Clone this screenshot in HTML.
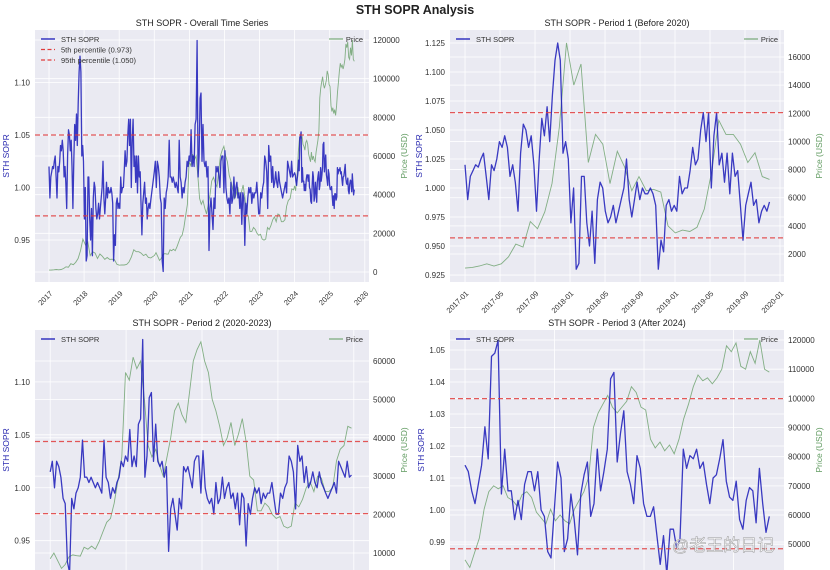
<!DOCTYPE html>
<html><head><meta charset="utf-8"><style>
html,body{margin:0;padding:0;background:#fff;width:830px;height:570px;overflow:hidden;}
svg{display:block;font-family:"Liberation Sans","Noto Sans CJK SC",sans-serif;overflow:hidden;}
</style></head><body>
<svg id="fig" width="830" height="570" viewBox="0 0 830 570" xmlns="http://www.w3.org/2000/svg">
<text x="415" y="14" text-anchor="middle" font-size="12.5" font-weight="bold" fill="#222">STH SOPR Analysis</text>
</svg>
<script>
// ---------- data ----------
var p1Sopr = [1.020,0.990,1.010,1.015,1.020,1.018,1.025,1.030,1.010,0.990,1.020,1.015,1.025,1.040,1.035,1.045,1.035,1.010,1.020,1.005,0.980,1.030,1.055,1.050,1.035,1.045,1.020,0.980,1.025,1.060,1.045,1.070,1.040,1.080,1.110,1.125,1.110,1.030,1.040,1.025,0.970,1.000,0.930,0.935,1.010,1.010,0.970,0.950,0.980,0.935,0.990,1.005,1.000,0.980,0.970,0.975,0.985,0.970,0.980,0.990,1.000,1.025,0.990,0.975,0.990,1.005,0.990,1.000,0.995,0.995,1.000,0.995,0.985,0.930,0.955,0.945,0.985,0.990,0.980,0.985,0.980,1.010,0.995,1.000,1.000,1.015,1.035,1.020,1.025,1.050,1.065,1.040,1.065,1.000,1.045,1.065,1.020,1.030,1.005,1.030,0.995,1.030,1.010,1.015,0.985,0.955,0.985,0.995,1.005,0.985,0.990,0.970,0.980,0.985,0.980,0.988];
var p1Price = [1000,1050,1150,1300,1150,1300,1800,2700,2500,4300,3800,5000,7000,11000,17000,14000,15500,8500,10500,9800,7000,9300,8200,6500,7500,6500,6600,6400,4000,3500,3700,3600,3900,5200,7800,11500,10500,10500,9800,8500,9200,7500,7300];
var p2Sopr = [1.015,1.025,1.000,1.025,1.020,1.010,0.990,0.985,0.930,0.920,0.990,0.980,0.995,1.000,1.010,1.045,1.010,1.010,1.005,1.010,1.005,1.000,1.005,1.000,0.995,1.045,1.010,1.005,0.990,1.000,0.995,1.005,1.010,1.025,1.020,1.030,1.025,1.055,1.020,1.030,1.020,1.060,1.065,1.140,1.010,1.030,1.085,1.090,1.025,1.060,1.025,1.020,1.025,1.010,1.020,0.940,0.980,0.990,0.975,0.960,0.990,0.980,1.020,1.015,1.020,1.010,1.000,1.025,1.030,1.030,0.995,1.035,1.000,0.990,0.985,0.990,0.975,1.005,0.985,0.990,1.010,0.990,1.000,1.005,0.990,0.995,0.980,0.995,0.965,0.995,0.990,0.945,0.985,0.975,0.990,1.000,0.995,1.000,0.985,0.995,0.990,0.995,0.995,1.005,0.990,0.975,0.975,0.995,0.990,1.000,1.005,1.030,1.025,1.015,0.980,1.040,1.025,1.030,1.005,1.020,1.000,1.005,1.015,1.005,1.000,1.015,1.005,1.000,0.995,0.990,0.995,1.000,1.005,0.995,1.025,1.020,1.015,1.010,1.025,1.010,1.012];
var p2Price = [8500,10000,8000,6000,7000,9000,9500,9300,9200,11500,11000,11800,11000,13000,15500,18000,19000,23000,29000,35000,57000,55000,61000,58000,60000,50000,38000,35000,37000,33000,30000,35000,40000,47000,49000,46000,44000,52000,60000,63000,65000,60000,57000,50000,47000,43000,38000,40000,44000,38000,41000,45000,39000,30000,29000,21000,21000,23000,22000,20000,19000,19500,17000,16500,17000,23000,22000,24000,27000,28500,26000,30000,29500,26000,26000,27000,34000,37000,38000,43000,42500];
var p3Sopr = [1.014,1.012,1.006,1.002,1.008,1.014,1.026,1.016,1.048,1.049,1.053,1.005,1.019,1.006,1.006,0.997,1.003,0.997,1.008,1.012,1.012,1.006,1.012,1.000,0.998,0.987,0.985,1.000,1.015,1.010,0.987,0.991,1.005,0.997,0.986,1.005,1.011,1.015,0.998,1.002,1.019,1.006,1.012,1.019,1.041,1.043,1.015,1.024,1.031,1.012,1.008,1.002,1.017,1.013,1.002,0.998,0.998,1.001,0.992,0.983,0.992,0.980,0.994,0.994,0.988,0.991,1.019,1.013,1.017,1.016,1.019,1.013,1.015,1.008,1.002,1.010,1.011,1.016,1.022,1.009,1.004,1.003,1.009,0.997,0.994,1.003,1.007,1.006,0.996,1.013,1.002,0.993,0.998];
var p3Price = [44600,42000,47000,52000,62000,68000,70000,69000,70000,66000,65000,63000,67000,68000,66000,61000,59000,57000,62000,58000,60000,58000,57000,62000,65000,68000,73000,90000,95000,98000,101000,97000,95000,97000,99000,104000,102000,97000,96000,86000,83000,85000,82000,84000,81000,86000,93000,98000,104000,108000,106000,107000,105000,107000,110000,118000,116000,119000,111000,110000,116000,112000,120000,110000,109000];
var p1Span = [2017.0, 2019.9];
var p2Span = [2020.0, 2023.97];
var p3Span = [2024.0, 2025.7];
var yearTicks = [2017,2018,2019,2020,2021,2022,2023,2024,2025,2026];
var monthTickLabels = ["2017-01","2017-05","2017-09","2018-01","2018-05","2018-09","2019-01","2019-05","2019-09","2020-01"];

var NS = "http://www.w3.org/2000/svg";
var svg = document.getElementById("fig");
function mk(tag, attrs, parent){
  var e = document.createElementNS(NS, tag);
  for (var k in attrs) e.setAttribute(k, attrs[k]);
  (parent||svg).appendChild(e);
  return e;
}
function series(vals, span){
  var out=[]; var n=vals.length;
  for (var i=0;i<n;i++) out.push([span[0]+(span[1]-span[0])*i/(n-1), vals[i]]);
  return out;
}
function drawPanel(c){
  var g = mk("g",{});
  
  
  var clipId = c.name+"-clip";
  var cp = mk("clipPath",{id:clipId},g);
  mk("rect",{x:c.L,y:c.T,width:c.R-c.L,height:c.B-c.T},cp);
  var bg = mk("rect",{x:c.L,y:c.T,width:c.R-c.L,height:Math.min(c.B,570)-c.T,fill:"#eaeaf2"},g);
  
  
  function X(v){return c.L+(v-c.x0)/(c.x1-c.x0)*(c.R-c.L);}
  function Y(v){return c.B-(v-c.y0)/(c.y1-c.y0)*(c.B-c.T);}
  function P(v){return c.B-(v-c.p0)/(c.p1-c.p0)*(c.B-c.T);}
  var grid = mk("g",{"clip-path":"url(#"+clipId+")"},g);
  c.xt.forEach(function(v){ mk("line",{x1:X(v),x2:X(v),y1:c.T,y2:Math.min(c.B,570),stroke:"#fff","stroke-width":0.8},grid); });
  c.yt.forEach(function(v){ mk("line",{x1:c.L,x2:c.R,y1:Y(v),y2:Y(v),stroke:"#fff","stroke-width":0.8},grid); });
  c.pt.forEach(function(v){ mk("line",{x1:c.L,x2:c.R,y1:P(v),y2:P(v),stroke:"#fff","stroke-width":0.8},grid); });
  var body = mk("g",{"clip-path":"url(#"+clipId+")"},g);
  var pd = c.price.map(function(p,i){return (i?"L":"M")+X(p[0]).toFixed(1)+","+P(p[1]).toFixed(1);}).join("");
  var pl = mk("path",{d:pd,fill:"none",stroke:"#5f9a5f","stroke-opacity":0.75,"stroke-width":0.9},body);
  
  
  var sd = c.sopr.map(function(p,i){return (i?"L":"M")+X(p[0]).toFixed(1)+","+Y(p[1]).toFixed(1);}).join("");
  var sl = mk("path",{d:sd,fill:"none",stroke:"#1a1ab8","stroke-opacity":0.85,"stroke-width":1.3,"stroke-linejoin":"round"},body);
  
  
  c.pct.forEach(function(v,i){
    var l = mk("line",{x1:c.L,x2:c.R,y1:Y(v),y2:Y(v),stroke:"#e03c3c","stroke-opacity":0.85,"stroke-width":1.2,"stroke-dasharray":"5,3"},body);
    
    
  });
  c.yt.forEach(function(v){
    if (Y(v) > 566) return;
    var t = mk("text",{x:c.L-5,y:Y(v)+3,"text-anchor":"end","font-size":8,fill:"#333"},g);
    t.textContent = v.toFixed(c.dp);
    
    
  });
  c.pt.forEach(function(v){
    if (P(v) > 566) return;
    var t = mk("text",{x:c.R+4,y:P(v)+3,"font-size":8,fill:"#333"},g);
    t.textContent = String(v);
    
    
  });
  if (c.xl){
    c.xt.forEach(function(v,i){
      var x=X(v), y=c.B+8;
      var t = mk("text",{x:x+4,y:y+4,"text-anchor":"end","font-size":7.5,fill:"#333",transform:"rotate(-45 "+(x+4)+" "+(y+4)+")"},g);
      t.textContent = c.xl[i];
      
      
    });
  }
  var tt = mk("text",{x:(c.L+c.R)/2,y:c.T-4,"text-anchor":"middle","font-size":9,fill:"#222"},g);
  tt.textContent = c.title;
  
  
  var yl = mk("text",{x:0,y:0,"text-anchor":"middle","font-size":8.5,fill:"#2a2ab0",transform:"translate("+(c.L-c.ylOff)+","+((c.T+Math.min(c.B,570))/2)+") rotate(-90)"},g);
  yl.textContent = "STH SOPR";
  
  
  var pl2 = mk("text",{x:0,y:0,"text-anchor":"middle","font-size":8.5,fill:"#5f9a5f",transform:"translate("+(c.R+38)+","+((c.T+Math.min(c.B,570))/2)+") rotate(-90)"},g);
  pl2.textContent = "Price (USD)";
  
  
  var lg = mk("g",{},g);
  
  
  var entries = [["STH SOPR","#1a1ab8",""]];
  if (c.full){ entries.push(["5th percentile (0.973)","#e03c3c","4,2.5"]); entries.push(["95th percentile (1.050)","#e03c3c","4,2.5"]); }
  entries.forEach(function(e,i){
    var y = c.T+9+i*10.5;
    mk("line",{x1:c.L+6,x2:c.L+20,y1:y,y2:y,stroke:e[1],"stroke-width":1.3,"stroke-dasharray":e[2]},lg);
    var t = mk("text",{x:c.L+26,y:y+3,"font-size":7.5,fill:"#333"},lg);
    t.textContent = e[0];
    
    
  });
  var lp = mk("g",{},g);
  
  
  mk("line",{x1:c.R-40,x2:c.R-26,y1:c.T+9,y2:c.T+9,stroke:"#5f9a5f","stroke-width":1},lp);
  var tp = mk("text",{x:c.R-6,y:c.T+12,"text-anchor":"end","font-size":7.5,fill:"#333"},lp);
  tp.textContent = "Price";
  
  
}
var allSopr = series(p1Sopr,p1Span).concat(series(p2Sopr,p2Span),series(p3Sopr,p3Span));
var allPrice = series(p1Price,p1Span).concat(series(p2Price,p2Span),series(p3Price,p3Span));
var mTicks = monthTickLabels.map(function(s){return +s.slice(0,4)+(+s.slice(5)-1)/12;});
drawPanel({name:"overall-panel",title:"STH SOPR - Overall Time Series",L:35,R:369,T:30,B:282,x0:2016.60,x1:2026.12,y0:0.910,y1:1.150,p0:-5170,p1:125170,
  yt:[0.95,1.00,1.05,1.10],dp:2,pt:[0,20000,40000,60000,80000,100000,120000],xt:yearTicks,xl:yearTicks.map(String),
  sopr:allSopr,price:allPrice,pct:[0.973,1.050],full:true,ylOff:26});
drawPanel({name:"period1-panel",title:"STH SOPR - Period 1 (Before 2020)",L:450,R:784,T:30,B:282,x0:2016.857,x1:2020.038,y0:0.919,y1:1.1362,p0:10,p1:17919,
  yt:[0.925,0.95,0.975,1.0,1.025,1.05,1.075,1.1,1.125],dp:3,pt:[2000,4000,6000,8000,10000,12000,14000,16000],xt:mTicks,xl:monthTickLabels,
  sopr:series(p1Sopr,p1Span),price:series(p1Price,p1Span),pct:[0.957,1.065],full:false,ylOff:28});
drawPanel({name:"period2-panel",title:"STH SOPR - Period 2 (2020-2023)",L:35,R:369,T:330,B:600,x0:2019.80,x1:2024.2,y0:0.894,y1:1.149,p0:-2240,p1:68073,
  yt:[0.95,1.00,1.05,1.10],dp:2,pt:[10000,20000,30000,40000,50000,60000],xt:[2020,2021,2022,2023,2024],xl:null,
  sopr:series(p2Sopr,p2Span),price:series(p2Price,p2Span),pct:[0.9756,1.0437],full:false,ylOff:26});
drawPanel({name:"period3-panel",title:"STH SOPR - Period 3 (After 2024)",L:450,R:784,T:330,B:600,x0:2023.916,x1:2025.782,y0:0.97188,y1:1.05625,p0:30860,p1:123430,
  yt:[0.99,1.00,1.01,1.02,1.03,1.04,1.05],dp:2,pt:[50000,60000,70000,80000,90000,100000,110000,120000],xt:[2024,2024.5,2025,2025.5],xl:null,
  sopr:series(p3Sopr,p3Span),price:series(p3Price,p3Span),pct:[0.9879,1.0348],full:false,ylOff:26});
var wm = mk("text",{x:672,y:551,"font-size":17,fill:"#fff","fill-opacity":0.8,stroke:"#999","stroke-width":0.5});
wm.textContent = "@老王的日记";


</script>
</body></html>
